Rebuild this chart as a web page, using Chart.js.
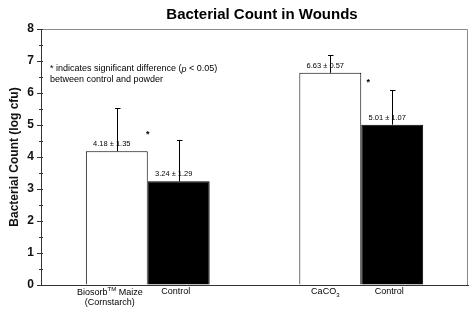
<!DOCTYPE html>
<html>
<head>
<meta charset="utf-8">
<script src="https://cdn.jsdelivr.net/npm/chart.js@4/dist/chart.umd.min.js"></script>
<style>
html,body{margin:0;padding:0;background:#fff;}
#wrap{width:474px;height:315px;position:relative;}
</style>
</head>
<body>
<div id="wrap"><canvas id="c" width="474" height="315"></canvas></div>
<script>
// ---- data ----
const groups = ['Biosorb Maize', 'CaCO3'];
const powderLabels = [['Biosorb', 'TM', ' Maize', '(Cornstarch)'], ['CaCO', '3']];
const controlLabel = 'Control';
const powderMeans = [4.18, 6.63];
const powderSD = [1.35, 0.57];
const controlMeans = [3.24, 5.01];
const controlSD = [1.29, 1.07];
const yTickValues = [0, 1, 2, 3, 4, 5, 6, 7, 8];
const asteriskY = [4.75, 6.4];
const titleText = 'Bacterial Count in Wounds';
const yTitle = 'Bacterial Count (log cfu)';
const noteLines = ['* indicates significant difference (', 'p', ' < 0.05)', 'between control and powder'];

const FONT = '"Liberation Sans", Arial, Helvetica, sans-serif';

const overlay = {
  id: 'overlay',
  afterDraw(chart) {
    const ctx = chart.ctx;
    const ca = chart.chartArea;
    const ys = chart.scales.y;
    ctx.save();
    // frame top & right
    ctx.strokeStyle = '#8a8a8a';
    ctx.lineWidth = 1;
    ctx.beginPath();
    ctx.moveTo(ca.left, ca.top + 0.5);
    ctx.lineTo(ca.right - 0.5, ca.top + 0.5);
    ctx.lineTo(ca.right - 0.5, ca.bottom);
    ctx.stroke();
    // inner major ticks & minor ticks
    ctx.strokeStyle = '#333';
    ctx.beginPath();
    yTickValues.forEach(v => {
      const y = Math.round(ys.getPixelForValue(v)) + 0.5;
      ctx.moveTo(ca.left, y); ctx.lineTo(ca.left + 2, y);
    });
    for (let i = 0; i < yTickValues.length - 1; i++) {
      const v = (yTickValues[i] + yTickValues[i + 1]) / 2;
      const y = Math.round(ys.getPixelForValue(v)) + 0.5;
      ctx.moveTo(ca.left - 2, y); ctx.lineTo(ca.left + 2, y);
    }
    ctx.stroke();

    // title
    ctx.fillStyle = '#000';
    ctx.font = 'bold 15px ' + FONT;
    ctx.textAlign = 'center';
    ctx.textBaseline = 'middle';
    ctx.fillText(titleText, 262, 15);

    // note text
    ctx.font = '9px ' + FONT;
    ctx.textAlign = 'left';
    let x = 50;
    ctx.fillText(noteLines[0], x, 69); x += ctx.measureText(noteLines[0]).width;
    ctx.font = 'italic 9px ' + FONT;
    ctx.fillText(noteLines[1], x, 69); x += ctx.measureText(noteLines[1]).width;
    ctx.font = '9px ' + FONT;
    ctx.fillText(noteLines[2], x, 69);
    ctx.fillText(noteLines[3], 50, 80);

    const m0 = chart.getDatasetMeta(0).data;
    const m1 = chart.getDatasetMeta(1).data;
    const sets = [[m0, powderMeans, powderSD], [m1, controlMeans, controlSD]];

    // value labels
    ctx.font = '7.5px ' + FONT;
    ctx.textAlign = 'center';
    ctx.textBaseline = 'middle';
    sets.forEach(([els, means, sds]) => {
      els.forEach((el, i) => {
        ctx.fillText(means[i].toFixed(2) + ' \u00B1 ' + sds[i].toFixed(2), el.x - 5, el.y - 7);
      });
    });
    // error bars
    ctx.strokeStyle = '#000';
    ctx.lineWidth = 1;
    sets.forEach(([els, means, sds]) => {
      els.forEach((el, i) => {
        const xx = Math.round(el.x) + 0.5;
        const yTop = Math.round(ys.getPixelForValue(means[i] + sds[i])) + 0.5;
        ctx.beginPath();
        ctx.moveTo(xx, el.y);
        ctx.lineTo(xx, yTop);
        ctx.moveTo(xx - 2.5, yTop);
        ctx.lineTo(xx + 3, yTop);
        ctx.stroke();
      });
    });
    // asterisks
    ctx.font = 'bold 9px ' + FONT;
    const astOff = [0, 7];
    m0.forEach((el, i) => {
      const xr = el.x + el.width / 2 + astOff[i];
      ctx.fillText('*', xr, ys.getPixelForValue(asteriskY[i]) + 2);
    });

    // category labels
    ctx.font = '9px ' + FONT;
    ctx.textBaseline = 'middle';
    // group 1 powder
    {
      const el = m0[0];
      const parts = powderLabels[0];
      ctx.font = '9px ' + FONT;
      const w1 = ctx.measureText(parts[0]).width;
      const w3 = ctx.measureText(parts[2]).width;
      ctx.font = '6px ' + FONT;
      const w2 = ctx.measureText(parts[1]).width;
      const total = w1 + w2 + w3;
      const cx = el.x - 7;
      let sx = cx - total / 2;
      ctx.textAlign = 'left';
      ctx.font = '9px ' + FONT;
      ctx.fillText(parts[0], sx, 293); sx += w1;
      ctx.font = '6px ' + FONT;
      ctx.fillText(parts[1], sx, 289); sx += w2;
      ctx.font = '9px ' + FONT;
      ctx.fillText(parts[2], sx, 293);
      ctx.textAlign = 'center';
      ctx.fillText(parts[3], cx, 303);
    }
    // group 2 powder
    {
      const el = m0[1];
      const parts = powderLabels[1];
      ctx.font = '9px ' + FONT;
      const w1 = ctx.measureText(parts[0]).width;
      ctx.font = '6px ' + FONT;
      const w2 = ctx.measureText(parts[1]).width;
      let sx = el.x - 5 - (w1 + w2) / 2;
      ctx.textAlign = 'left';
      ctx.font = '9px ' + FONT;
      ctx.fillText(parts[0], sx, 292); sx += w1;
      ctx.font = '6px ' + FONT;
      ctx.fillText(parts[1], sx, 295);
    }
    ctx.font = '9px ' + FONT;
    ctx.textAlign = 'center';
    m1.forEach(el => ctx.fillText(controlLabel, el.x - 3, 292));
    ctx.restore();
  }
};

new Chart(document.getElementById('c'), {
  type: 'bar',
  data: {
    labels: groups,
    datasets: [
      { label: 'Powder', data: powderMeans, backgroundColor: '#ffffff', borderColor: '#000', borderWidth: 1,
        barPercentage: 1.0, categoryPercentage: 0.58 },
      { label: 'Control', data: controlMeans, backgroundColor: '#000000', borderColor: '#000', borderWidth: 1,
        barPercentage: 1.0, categoryPercentage: 0.58 }
    ]
  },
  options: {
    responsive: false,
    animation: false,
    devicePixelRatio: 1,
    layout: { padding: { top: 29, right: 6, left: 0, bottom: 0 } },
    plugins: { legend: { display: false }, tooltip: { enabled: false }, title: { display: false } },
    scales: {
      x: {
        grid: { display: false },
        border: { display: true, color: '#333', width: 1 },
        ticks: { display: false },
        afterFit(s) { s.height = 30; }
      },
      y: {
        min: 0, max: 8,
        afterBuildTicks(s) { s.ticks = yTickValues.map(v => ({ value: v })); },
        grid: { drawOnChartArea: false, drawTicks: true, tickLength: 4, color: '#333' },
        border: { display: true, color: '#333', width: 1 },
        ticks: { color: '#111', padding: 3, font: { family: FONT, size: 12, weight: 'bold' } },
        title: { display: true, text: yTitle, color: '#111', padding: { top: 7, bottom: 0 },
                 font: { family: FONT, size: 12, weight: 'bold' } },
        afterFit(s) { s.width = 41; }
      }
    }
  },
  plugins: [overlay]
});
</script>
</body>
</html>
